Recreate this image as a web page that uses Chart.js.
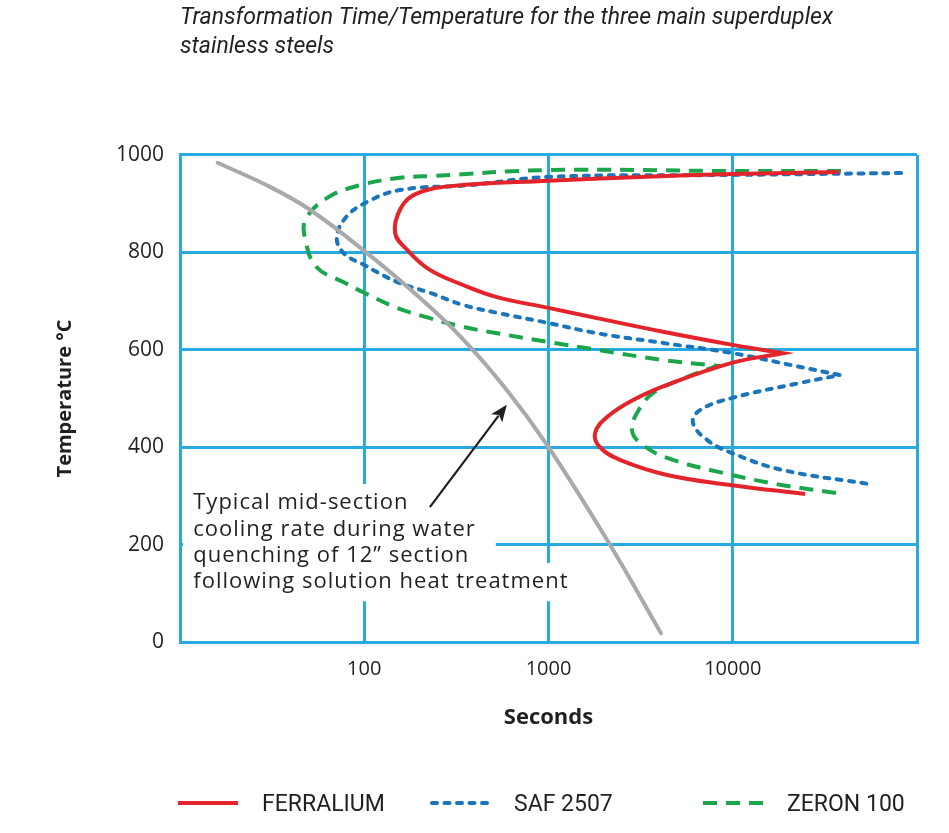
<!DOCTYPE html>
<html>
<head>
<meta charset="utf-8">
<script src="https://cdn.jsdelivr.net/npm/chart.js@4.4.1/dist/chart.umd.min.js"></script>
<style>
  html, body { margin: 0; padding: 0; background: #ffffff; }
  #wrap { width: 949px; height: 833px; }
</style>
</head>
<body>
<div id="wrap"><canvas id="c" width="949" height="833"></canvas></div>
<script>
// ---------- data (seconds, °C) ----------
const TITLE_LINES = ['Transformation Time/Temperature for the three main superduplex', 'stainless steels'];
const X_TITLE = 'Seconds';
const Y_TITLE = 'Temperature °C';
const X_TICKS = [10, 100, 1000, 10000, 100000];
const X_TICK_LABELS = ['', '100', '1000', '10000', ''];
const Y_MIN = 0, Y_MAX = 1000, Y_STEP = 200;

const SERIES_NAMES = ['FERRALIUM', 'SAF 2507', 'ZERON 100', ''];

const FERRALIUM_T = [37700, 10000, 3140, 1000, 296, 191, 158, 147, 171, 227, 344, 525, 1000, 1830, 4180, 10000, 18700, 18700, 9900, 4400, 2880, 2080, 1790, 1900, 2440, 4400, 9900, 24700];
const FERRALIUM_C = [965, 961, 955, 947, 936, 920, 891, 840, 805, 764, 733, 708, 686, 665, 637, 610, 593, 593, 573, 528, 497, 462, 429, 400, 374, 343, 322, 304];

const SAF2507_T = [82000, 10000, 1000, 370, 156, 103, 80, 71, 77, 100, 151, 227, 344, 525, 1000, 1830, 4180, 10000, 20500, 38200, 38200, 23200, 9900, 6640, 6080, 7250, 9900, 18700, 55600];
const SAF2507_C = [963, 959, 955, 938, 928, 903, 873, 832, 799, 774, 739, 717, 692, 676, 655, 634, 614, 593, 569, 548, 548, 532, 501, 476, 450, 415, 388, 353, 324];

const ZERON100_T = [38700, 10000, 1000, 239, 156, 95, 63, 48, 48, 55, 77, 100, 151, 227, 344, 525, 1000, 1830, 4180, 8200, 8200, 5650, 3690, 3020, 2840, 3140, 4400, 9900, 18700, 39600];
const ZERON100_C = [967, 967, 969, 957, 953, 938, 912, 867, 825, 770, 739, 717, 686, 665, 647, 634, 616, 600, 579, 567, 567, 544, 511, 470, 435, 409, 378, 343, 322, 304];

const COOLING_T = [16, 31, 51, 100, 184, 331, 595, 1000, 2160, 4080];
const COOLING_C = [984, 934, 887, 803, 719, 628, 517, 400, 199, 18];

const NOTE_LINES = ['Typical mid-section', 'cooling rate during water', 'quenching of 12\u201D section', 'following solution heat treatment'];
const NOTE_ANCHOR = [11.8, 285];          // seconds, °C (left / first line)
const ARROW_FROM = [227, 277];            // seconds, °C
const ARROW_TO = [594, 487];              // seconds, °C

// legend layout (canvas px)
const LEGEND_X = [178, 430, 703];
const LEGEND_Y = 803;
const LEGEND_LINE = 60, LEGEND_TEXT_GAP = 24;

// ---------- helpers ----------
const pts = (xs, ys) => xs.map((x, i) => ({ x: x, y: ys[i] }));
const INK = '#231f20';
const GRID = '#27aae1';

const notePlugin = {
  id: 'note',
  beforeDatasetsDraw(chart) {
    const ctx = chart.ctx, xs = chart.scales.x, ys = chart.scales.y;
    const x0 = xs.getPixelForValue(NOTE_ANCHOR[0]);
    const y0 = ys.getPixelForValue(NOTE_ANCHOR[1]);
    const LH = 26.3;
    ctx.save();
    ctx.font = '22px "Open Sans"';
    if ('letterSpacing' in ctx) ctx.letterSpacing = '1px';
    ctx.textBaseline = 'middle';
    ctx.textAlign = 'left';
    ctx.fillStyle = '#ffffff';
    NOTE_LINES.forEach((t, i) => {
      const w = ctx.measureText(t).width;
      ctx.fillRect(x0 - 10, y0 + i * LH - LH / 2 - 6, w + 30, LH + 12);
    });
    ctx.fillStyle = INK;
    NOTE_LINES.forEach((t, i) => ctx.fillText(t, x0, y0 + i * LH));
    if ('letterSpacing' in ctx) ctx.letterSpacing = '0px';
    // arrow
    const ax = xs.getPixelForValue(ARROW_FROM[0]), ay = ys.getPixelForValue(ARROW_FROM[1]);
    const bx = xs.getPixelForValue(ARROW_TO[0]), by = ys.getPixelForValue(ARROW_TO[1]);
    const ang = Math.atan2(by - ay, bx - ax);
    const hl = 17, hw = 7;
    ctx.strokeStyle = INK;
    ctx.lineWidth = 2.2;
    ctx.beginPath();
    ctx.moveTo(ax, ay);
    ctx.lineTo(bx - Math.cos(ang) * hl * 0.8, by - Math.sin(ang) * hl * 0.8);
    ctx.stroke();
    ctx.beginPath();
    ctx.moveTo(bx, by);
    ctx.lineTo(bx - Math.cos(ang) * hl + Math.sin(ang) * hw, by - Math.sin(ang) * hl - Math.cos(ang) * hw);
    ctx.lineTo(bx - Math.cos(ang) * hl * 0.75, by - Math.sin(ang) * hl * 0.75);
    ctx.lineTo(bx - Math.cos(ang) * hl - Math.sin(ang) * hw, by - Math.sin(ang) * hl + Math.cos(ang) * hw);
    ctx.closePath();
    ctx.fillStyle = INK;
    ctx.fill();
    ctx.restore();
  }
};

const legendPlugin = {
  id: 'lineLegend',
  afterDraw(chart) {
    const ctx = chart.ctx;
    ctx.save();
    let k = 0;
    chart.data.datasets.forEach((ds) => {
      if (!ds.label) return;
      const x = LEGEND_X[k++];
      ctx.beginPath();
      ctx.strokeStyle = ds.borderColor;
      ctx.lineWidth = ds.borderWidth;
      ctx.lineCap = ds.borderCapStyle || 'butt';
      ctx.setLineDash(ds.borderDash || []);
      const inset = ctx.lineCap === 'round' ? ds.borderWidth / 2 : 0;
      ctx.moveTo(x + inset, LEGEND_Y);
      ctx.lineTo(x + LEGEND_LINE - inset, LEGEND_Y);
      ctx.stroke();
      ctx.setLineDash([]);
      ctx.fillStyle = INK;
      ctx.font = '23px Roboto';
      ctx.textBaseline = 'middle';
      ctx.textAlign = 'left';
      ctx.fillText(ds.label, x + LEGEND_LINE + LEGEND_TEXT_GAP, LEGEND_Y + 2);
    });
    ctx.restore();
  }
};

new Chart(document.getElementById('c'), {
  type: 'scatter',
  data: {
    datasets: [
      { label: SERIES_NAMES[3], data: pts(COOLING_T, COOLING_C), borderColor: '#a7a9ac', borderWidth: 4, showLine: true, tension: 0.4, pointRadius: 0, borderCapStyle: 'round', order: 0 },
      { label: SERIES_NAMES[0], data: pts(FERRALIUM_T, FERRALIUM_C), borderColor: '#e3242b', borderWidth: 4, showLine: true, tension: 0.4, pointRadius: 0, borderCapStyle: 'butt', order: 1 },
      { label: SERIES_NAMES[1], data: pts(SAF2507_T, SAF2507_C), borderColor: '#1b75bb', borderWidth: 4, borderDash: [5, 7.5], borderCapStyle: 'round', showLine: true, tension: 0.4, pointRadius: 0, order: 2 },
      { label: SERIES_NAMES[2], data: pts(ZERON100_T, ZERON100_C), borderColor: '#1ba64c', borderWidth: 4, borderDash: [14, 9], borderCapStyle: 'butt', showLine: true, tension: 0.4, pointRadius: 0, order: 3 }
    ]
  },
  options: {
    responsive: false,
    animation: false,
    events: [],
    layout: { padding: { left: 0, right: 32, top: 0, bottom: 101 } },
    scales: {
      x: {
        type: 'logarithmic',
        min: 10, max: 100000,
        afterBuildTicks: (ax) => { ax.ticks = X_TICKS.map(v => ({ value: v })); },
        afterFit: (ax) => { ax.height = 90; },
        ticks: {
          autoSkip: false, maxRotation: 0, padding: 15,
          color: INK, font: { family: '"Open Sans"', size: 20 },
          callback: (v) => { const i = X_TICKS.indexOf(v); return i >= 0 ? X_TICK_LABELS[i] : ''; }
        },
        grid: { color: GRID, lineWidth: 3, drawTicks: false },
        border: { display: true, color: GRID, width: 3 },
        title: { display: true, text: X_TITLE, color: INK, font: { family: '"Open Sans"', size: 22, weight: 'bold' }, padding: { top: 0, bottom: 1 } }
      },
      y: {
        type: 'linear',
        min: Y_MIN, max: Y_MAX,
        ticks: { stepSize: Y_STEP, padding: 16, color: INK, font: { family: '"Open Sans"', size: 21 }, callback: (v) => String(v) },
        afterFit: (ax) => { ax.width = 180; },
        grid: { color: GRID, lineWidth: 3, drawTicks: false },
        border: { display: true, color: GRID, width: 3 },
        title: { display: true, text: Y_TITLE, color: INK, font: { family: '"Open Sans"', size: 20, weight: 'bold' }, padding: { top: 53, bottom: 0 } }
      }
    },
    plugins: {
      title: {
        display: true,
        text: TITLE_LINES,
        align: 'start',
        fullSize: false,
        color: INK,
        font: { family: 'Roboto', size: 23, style: 'italic', weight: 'normal', lineHeight: 1.26 },
        padding: { top: 4, bottom: 93 }
      },
      legend: { display: false },
      tooltip: { enabled: false }
    }
  },
  plugins: [notePlugin, legendPlugin]
});
</script>
</body>
</html>
